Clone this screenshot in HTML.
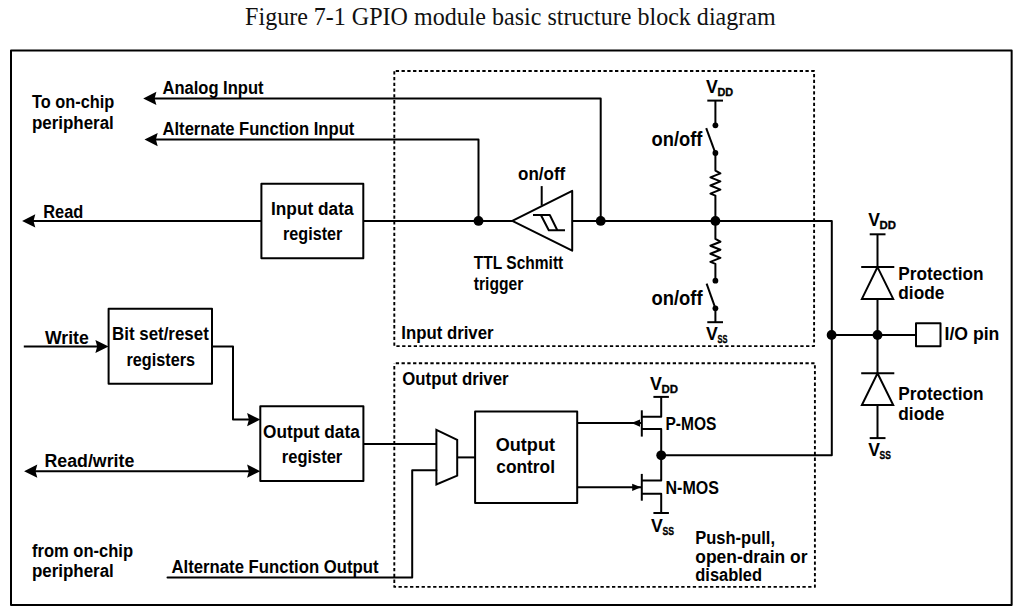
<!DOCTYPE html>
<html lang="en">
<head>
<meta charset="utf-8">
<title>Figure 7-1 GPIO module basic structure block diagram</title>
<style>
html,body{margin:0;padding:0;background:#fff;}
body{width:1024px;height:613px;overflow:hidden;}
svg{display:block;}
.b{font-family:"Liberation Sans",sans-serif;font-weight:bold;fill:#000;}
.s{stroke:#000;stroke-width:0.35px;}
.t{font-family:"Liberation Serif",serif;fill:#111;}
</style>
</head>
<body>
<svg width="1024" height="613" viewBox="0 0 1024 613">
<rect x="0" y="0" width="1024" height="613" fill="#fff"/>
<g transform="translate(0 0.3)">
<rect x="11" y="50.2" width="1000.65" height="554.4" fill="none" stroke="#000" stroke-width="2.0" stroke-linejoin="round" />
<rect x="394.3" y="70.7" width="419.8" height="275.1" fill="none" stroke="#000" stroke-width="1.9" stroke-linejoin="round" stroke-dasharray="3.3 2.47" stroke-dashoffset="4.3"/>
<rect x="394.3" y="362.9" width="420.6" height="223.7" fill="none" stroke="#000" stroke-width="1.9" stroke-linejoin="round" stroke-dasharray="3.3 2.47" stroke-dashoffset="4.3"/>
<path d="M150 98.15 L600.7 98.15 L600.7 220.65" fill="none" stroke="#000" stroke-width="2.0" stroke-linejoin="round" />
<polygon points="143.2,98.15 156.4,91.55 154.6,98.15 156.4,104.75" fill="#000"/>
<path d="M150 139.3 L478.5 139.3 L478.5 220.65" fill="none" stroke="#000" stroke-width="2.0" stroke-linejoin="round" />
<polygon points="144.5,139.3 157.7,132.7 155.9,139.3 157.7,145.9" fill="#000"/>
<path d="M30 220.65 L261.5 220.65" fill="none" stroke="#000" stroke-width="2.0" stroke-linejoin="round" />
<polygon points="22.1,220.65 35.3,214.05 33.5,220.65 35.3,227.25" fill="#000"/>
<rect x="261.4" y="183.5" width="101.9" height="74.5" fill="none" stroke="#000" stroke-width="2.0" stroke-linejoin="round" />
<path d="M363.3 220.65 L512.5 220.65" fill="none" stroke="#000" stroke-width="2.0" stroke-linejoin="round" />
<polygon points="512.3,220.65 572.2,190.6 572.2,250.4" fill="none" stroke="#000" stroke-width="2.0" stroke-linejoin="round"/>
<path d="M541.7 185.8 L541.7 205.2" fill="none" stroke="#000" stroke-width="2.0" stroke-linejoin="round" />
<path d="M533 214.7 L549.8 214.7 L557.3 230" fill="none" stroke="#000" stroke-width="2.0" stroke-linejoin="round" />
<path d="M540.9 214.7 L548.8 230 L565 230" fill="none" stroke="#000" stroke-width="2.0" stroke-linejoin="round" />
<path d="M572.2 220.65 L831.8 220.65 L831.8 455 L661.2 455" fill="none" stroke="#000" stroke-width="2.0" stroke-linejoin="round" />
<circle cx="478.5" cy="220.65" r="4.9" fill="#000"/>
<circle cx="600.7" cy="220.65" r="4.9" fill="#000"/>
<circle cx="715.4" cy="220.65" r="4.9" fill="#000"/>
<path d="M707.3 100.3 L723 100.3" fill="none" stroke="#000" stroke-width="2.0" stroke-linejoin="round" />
<path d="M715.4 100.3 L715.4 125" fill="none" stroke="#000" stroke-width="2.0" stroke-linejoin="round" />
<circle cx="715.4" cy="125" r="2.9" fill="#000"/>
<path d="M706.2 127.8 L715.4 152.9" fill="none" stroke="#000" stroke-width="2.0" stroke-linejoin="round" />
<circle cx="715.4" cy="152.7" r="2.9" fill="#000"/>
<path d="M715.4 152.9 L715.4 170.3 L720.4 173.1 L710.4 177.1 L720.4 181.1 L710.4 185.2 L720.4 189.3 L710.4 193.3 L715.4 195.3 L715.4 220.65" fill="none" stroke="#000" stroke-width="2.0" stroke-linejoin="round" stroke-linejoin="miter"/>
<path d="M715.4 220.65 L715.4 238.6 L720.4 241.4 L710.4 245.4 L720.4 249.4 L710.4 253.5 L720.4 257.6 L710.4 261.6 L715.4 263.6 L715.4 280.4" fill="none" stroke="#000" stroke-width="2.0" stroke-linejoin="round" stroke-linejoin="miter"/>
<circle cx="715.4" cy="280.4" r="2.9" fill="#000"/>
<path d="M706.6 283.3 L715.4 308" fill="none" stroke="#000" stroke-width="2.0" stroke-linejoin="round" />
<circle cx="715.4" cy="308" r="2.9" fill="#000"/>
<path d="M715.4 308 L715.4 321.9" fill="none" stroke="#000" stroke-width="2.0" stroke-linejoin="round" />
<path d="M707.3 321.9 L723 321.9" fill="none" stroke="#000" stroke-width="2.0" stroke-linejoin="round" />
<circle cx="831.6" cy="334.7" r="4.9" fill="#000"/>
<circle cx="877.5" cy="334.7" r="4.9" fill="#000"/>
<path d="M831.8 334.7 L916 334.7" fill="none" stroke="#000" stroke-width="2.0" stroke-linejoin="round" />
<rect x="916" y="323" width="24.5" height="23" fill="none" stroke="#000" stroke-width="2.0" stroke-linejoin="round" />
<path d="M877.5 234 L877.5 437.8" fill="none" stroke="#000" stroke-width="2.0" stroke-linejoin="round" />
<path d="M869.7 234 L885.5 234" fill="none" stroke="#000" stroke-width="2.0" stroke-linejoin="round" />
<path d="M869.7 437.8 L885.5 437.8" fill="none" stroke="#000" stroke-width="2.0" stroke-linejoin="round" />
<path d="M861.2 266.8 L894.3 266.8" fill="none" stroke="#000" stroke-width="2.0" stroke-linejoin="round" />
<polygon points="877.5,266.8 893.2,298.6 861.9,298.6" fill="#fff" stroke="#000" stroke-width="2.0" stroke-linejoin="miter"/>
<path d="M861.2 373 L894.3 373" fill="none" stroke="#000" stroke-width="2.0" stroke-linejoin="round" />
<polygon points="877.5,373 893.2,404.8 861.9,404.8" fill="#fff" stroke="#000" stroke-width="2.0" stroke-linejoin="miter"/>
<path d="M23.8 346.2 L100 346.2" fill="none" stroke="#000" stroke-width="2.0" stroke-linejoin="round" />
<polygon points="108.6,346.2 95.4,339.6 97.2,346.2 95.4,352.8" fill="#000"/>
<rect x="108.6" y="308.5" width="103.4" height="75" fill="none" stroke="#000" stroke-width="2.0" stroke-linejoin="round" />
<path d="M212 346.2 L233 346.2 L233 419.3 L252 419.3" fill="none" stroke="#000" stroke-width="2.0" stroke-linejoin="round" />
<polygon points="260.3,419.3 247.1,412.7 248.9,419.3 247.1,425.9" fill="#000"/>
<rect x="260.3" y="406" width="103.1" height="74.8" fill="none" stroke="#000" stroke-width="2.0" stroke-linejoin="round" />
<path d="M32 470.9 L252 470.9" fill="none" stroke="#000" stroke-width="2.0" stroke-linejoin="round" />
<polygon points="24.1,470.9 37.3,464.3 35.5,470.9 37.3,477.5" fill="#000"/>
<polygon points="260.3,470.9 247.1,464.3 248.9,470.9 247.1,477.5" fill="#000"/>
<path d="M363.4 443.7 L436.4 443.7" fill="none" stroke="#000" stroke-width="2.0" stroke-linejoin="round" />
<polygon points="436.4,429.5 457.2,439.5 457.2,475.3 436.4,484.2" fill="none" stroke="#000" stroke-width="2.0" stroke-linejoin="miter"/>
<path d="M457.2 457.1 L475.1 457.1" fill="none" stroke="#000" stroke-width="2.0" stroke-linejoin="round" />
<path d="M167.5 577.1 L412.2 577.1 L412.2 470 L436.4 470" fill="none" stroke="#000" stroke-width="2.0" stroke-linejoin="round" stroke-linecap="round"/>
<rect x="475.1" y="411.3" width="102.1" height="91.5" fill="none" stroke="#000" stroke-width="2.0" stroke-linejoin="round" />
<path d="M577.2 422.8 L641.8 422.8" fill="none" stroke="#000" stroke-width="2.0" stroke-linejoin="round" />
<path d="M577.2 487 L641.8 487" fill="none" stroke="#000" stroke-width="2.0" stroke-linejoin="round" />
<polygon points="631.4,422.8 640,419.2 640,426.4" fill="#000"/>
<polygon points="641,487 632.2,483.4 632.2,490.6" fill="#000"/>
<path d="M641.8 410 L641.8 436.3" fill="none" stroke="#000" stroke-width="2.0" stroke-linejoin="round" />
<path d="M641.8 473.6 L641.8 500.4" fill="none" stroke="#000" stroke-width="2.0" stroke-linejoin="round" />
<path d="M653.4 396.6 L668.9 396.6" fill="none" stroke="#000" stroke-width="2.0" stroke-linejoin="round" />
<path d="M661.2 396.6 L661.2 416.5 L641.8 416.5" fill="none" stroke="#000" stroke-width="2.0" stroke-linejoin="round" />
<path d="M641.8 428.8 L661.2 428.8 L661.2 480.3 L641.8 480.3" fill="none" stroke="#000" stroke-width="2.0" stroke-linejoin="round" />
<path d="M641.8 493.5 L661.2 493.5 L661.2 513" fill="none" stroke="#000" stroke-width="2.0" stroke-linejoin="round" />
<path d="M653.4 512.7 L668.9 512.7" fill="none" stroke="#000" stroke-width="2.0" stroke-linejoin="round" />
<circle cx="661.2" cy="455" r="4.9" fill="#000"/>
<text x="32" y="108" font-size="18.3" class="b" textLength="82.3" lengthAdjust="spacingAndGlyphs">To on-chip</text>
<text x="32" y="128.7" font-size="18.3" class="b" textLength="81.8" lengthAdjust="spacingAndGlyphs">peripheral</text>
<text x="162.5" y="93.8" font-size="18.3" class="b" textLength="101" lengthAdjust="spacingAndGlyphs">Analog Input</text>
<text x="162.5" y="135" font-size="18.3" class="b" textLength="191.8" lengthAdjust="spacingAndGlyphs">Alternate Function Input</text>
<text x="43.3" y="218" font-size="18.3" class="b" textLength="40" lengthAdjust="spacingAndGlyphs">Read</text>
<text x="271" y="214.8" font-size="18.3" class="b" textLength="82.5" lengthAdjust="spacingAndGlyphs">Input data</text>
<text x="283" y="240" font-size="18.3" class="b" textLength="59.3" lengthAdjust="spacingAndGlyphs">register</text>
<text x="518.1" y="179.5" font-size="18.3" class="b" textLength="47.2" lengthAdjust="spacingAndGlyphs">on/off</text>
<text x="473.8" y="268.6" font-size="18.3" class="b" textLength="89.5" lengthAdjust="spacingAndGlyphs">TTL Schmitt</text>
<text x="473.8" y="290.1" font-size="18.3" class="b" textLength="49.5" lengthAdjust="spacingAndGlyphs">trigger</text>
<text x="706.1" y="92.8" font-size="18.3" class="b" textLength="11.8" lengthAdjust="spacingAndGlyphs">V</text>
<text x="717.5" y="95.7" font-size="11.8" class="b s" textLength="15.7" lengthAdjust="spacingAndGlyphs">DD</text>
<text x="651.5" y="145.6" font-size="19.6" class="b" textLength="50.9" lengthAdjust="spacingAndGlyphs">on/off</text>
<text x="651.5" y="304.3" font-size="19.6" class="b" textLength="51.1" lengthAdjust="spacingAndGlyphs">on/off</text>
<text x="706.1" y="339.8" font-size="18.3" class="b" textLength="11.8" lengthAdjust="spacingAndGlyphs">V</text>
<text x="717.5" y="342.7" font-size="11.8" class="b s" textLength="10" lengthAdjust="spacingAndGlyphs">SS</text>
<text x="401.3" y="339" font-size="18.3" class="b" textLength="92.2" lengthAdjust="spacingAndGlyphs">Input driver</text>
<text x="402.3" y="384.3" font-size="18.3" class="b" textLength="106.2" lengthAdjust="spacingAndGlyphs">Output driver</text>
<text x="45" y="344" font-size="18.3" class="b" textLength="43.8" lengthAdjust="spacingAndGlyphs">Write</text>
<text x="112" y="339.8" font-size="18.3" class="b" textLength="96.8" lengthAdjust="spacingAndGlyphs">Bit set/reset</text>
<text x="126.5" y="365.3" font-size="18.3" class="b" textLength="68.5" lengthAdjust="spacingAndGlyphs">registers</text>
<text x="44.5" y="466.5" font-size="18.3" class="b" textLength="89.8" lengthAdjust="spacingAndGlyphs">Read/write</text>
<text x="263" y="437.3" font-size="18.3" class="b" textLength="96.8" lengthAdjust="spacingAndGlyphs">Output data</text>
<text x="281.8" y="462.8" font-size="18.3" class="b" textLength="60.5" lengthAdjust="spacingAndGlyphs">register</text>
<text x="495.7" y="450.3" font-size="18.3" class="b" textLength="59.3" lengthAdjust="spacingAndGlyphs">Output</text>
<text x="496.3" y="472.8" font-size="18.3" class="b" textLength="58.7" lengthAdjust="spacingAndGlyphs">control</text>
<text x="650.1" y="389.5" font-size="18.3" class="b" textLength="11.9" lengthAdjust="spacingAndGlyphs">V</text>
<text x="661.6" y="392.4" font-size="11.8" class="b s" textLength="16.5" lengthAdjust="spacingAndGlyphs">DD</text>
<text x="665.5" y="429.4" font-size="18.3" class="b" textLength="50.9" lengthAdjust="spacingAndGlyphs">P-MOS</text>
<text x="665.5" y="493.4" font-size="18.3" class="b" textLength="53.4" lengthAdjust="spacingAndGlyphs">N-MOS</text>
<text x="651" y="531.5" font-size="18.3" class="b" textLength="11.8" lengthAdjust="spacingAndGlyphs">V</text>
<text x="662.4" y="534.4" font-size="11.8" class="b s" textLength="11.6" lengthAdjust="spacingAndGlyphs">SS</text>
<text x="695.3" y="544" font-size="18.3" class="b" textLength="79.7" lengthAdjust="spacingAndGlyphs">Push-pull,</text>
<text x="695.3" y="562.8" font-size="18.3" class="b" textLength="112.2" lengthAdjust="spacingAndGlyphs">open-drain or</text>
<text x="695.3" y="580.3" font-size="18.3" class="b" textLength="66.7" lengthAdjust="spacingAndGlyphs">disabled</text>
<text x="868.3" y="226" font-size="18.3" class="b" textLength="11.7" lengthAdjust="spacingAndGlyphs">V</text>
<text x="879.6" y="228.9" font-size="11.8" class="b s" textLength="16.4" lengthAdjust="spacingAndGlyphs">DD</text>
<text x="898.3" y="279.3" font-size="18.3" class="b" textLength="85.2" lengthAdjust="spacingAndGlyphs">Protection</text>
<text x="898.3" y="298.8" font-size="18.3" class="b" textLength="46" lengthAdjust="spacingAndGlyphs">diode</text>
<text x="944.5" y="339.7" font-size="18.3" class="b" textLength="54.8" lengthAdjust="spacingAndGlyphs">I/O pin</text>
<text x="898.3" y="399.6" font-size="18.3" class="b" textLength="85.2" lengthAdjust="spacingAndGlyphs">Protection</text>
<text x="898.3" y="420.1" font-size="18.3" class="b" textLength="46" lengthAdjust="spacingAndGlyphs">diode</text>
<text x="868.3" y="456" font-size="18.3" class="b" textLength="11.7" lengthAdjust="spacingAndGlyphs">V</text>
<text x="879.6" y="458.9" font-size="11.8" class="b s" textLength="11.4" lengthAdjust="spacingAndGlyphs">SS</text>
<text x="32" y="556.5" font-size="18.3" class="b" textLength="101" lengthAdjust="spacingAndGlyphs">from on-chip</text>
<text x="32" y="577" font-size="18.3" class="b" textLength="81.8" lengthAdjust="spacingAndGlyphs">peripheral</text>
<text x="171.5" y="572.6" font-size="18.3" class="b" textLength="207" lengthAdjust="spacingAndGlyphs">Alternate Function Output</text>
<text x="245.1" y="24.45" font-size="25.2" class="t" textLength="530.5" lengthAdjust="spacingAndGlyphs">Figure 7-1 GPIO module basic structure block diagram</text>
</g>
</svg>
</body>
</html>
